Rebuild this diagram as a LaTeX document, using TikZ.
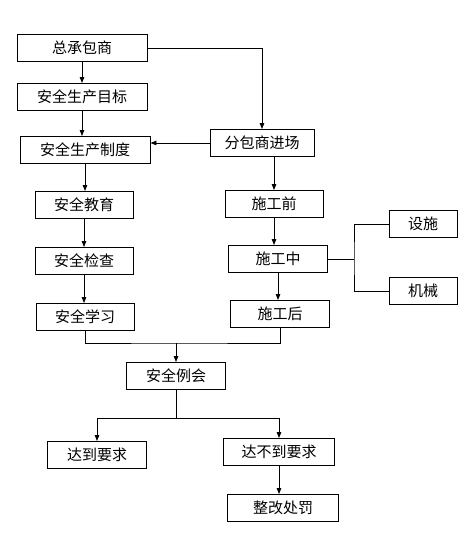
\documentclass[tikz,border=0pt]{standalone}
\usepackage{fontspec}
\setmainfont{Noto Sans CJK SC}
\usetikzlibrary{arrows.meta}
\begin{document}
\begin{tikzpicture}[x=1pt,y=-1pt,
  kuang/.style={draw,line width=0.9pt,minimum height=27pt,inner sep=0pt,
    font=\fontsize{15}{17}\selectfont},
  xian/.style={line width=0.9pt},
  jian/.style={line width=0.9pt,-{Triangle[length=6pt,width=4.5pt]}}]
  \useasboundingbox (0,0) rectangle (474,537);

  % left column
  \node[kuang,minimum width=130pt] (zcb) at (82,48) {总承包商};
  \node[kuang,minimum width=130pt] (mb) at (82,97) {安全生产目标};
  \node[kuang,minimum width=130pt] (zd) at (85,150) {安全生产制度};
  \node[kuang,minimum width=98pt] (jy) at (84,205) {安全教育};
  \node[kuang,minimum width=98pt] (jc) at (84,261) {安全检查};
  \node[kuang,minimum width=98pt] (xx) at (85,317) {安全学习};

  % right column
  \node[kuang,minimum width=104pt] (fb) at (262,143) {分包商进场};
  \node[kuang,minimum width=98pt] (sq) at (274,204) {施工前};
  \node[kuang,minimum width=99pt] (sz) at (278,259) {施工中};
  \node[kuang,minimum width=99pt] (sh) at (280,314) {施工后};
  \node[kuang,minimum width=68pt] (ss) at (423,224) {设施};
  \node[kuang,minimum width=68pt] (jx) at (423,291) {机械};

  % bottom
  \node[kuang,minimum width=99pt] (lh) at (176,376) {安全例会};
  \node[kuang,minimum width=99pt] (dd) at (97,455) {达到要求};
  \node[kuang,minimum width=111pt] (bd) at (279,452) {达不到要求};
  \node[kuang,minimum width=111pt] (zg) at (283,508) {整改处罚};

  \draw[jian] (zcb.east) -| (fb.north);
  \draw[jian] (zcb.south) -- (mb.north);
  \draw[jian] (mb.south) -- (mb.south |- zd.north);
  \draw[jian] (fb.west) -- (fb.west -| zd.east);
  \draw[jian] (zd.south) -- (zd.south |- jy.north);
  \draw[jian] (jy.south) -- (jc.north);
  \draw[jian] (jc.south) -- (jc.south |- xx.north);

  \draw[jian] (sq.north |- fb.south) -- (sq.north);
  \draw[jian] (sq.south) -- (sq.south |- sz.north);
  \draw[jian] (sz.south) -- (sz.south |- sh.north);
  \coordinate (kz) at (354,259);
  \draw[xian] (sz.east) -- (kz);
  \draw[xian] (ss.west) -| (kz) |- (jx.west);

  \coordinate (hb) at (176,343);
  \draw[xian] (xx.south) |- (hb) -| (sh.south);
  \draw[jian] (hb) -- (lh.north);

  \coordinate (fc) at (176,418);
  \draw[xian] (lh.south) -- (fc);
  \draw[jian] (fc) -| (dd.north);
  \draw[jian] (fc) -| (bd.north);
  \draw[jian] (bd.south) -- (bd.south |- zg.north);
\end{tikzpicture}
\end{document}
